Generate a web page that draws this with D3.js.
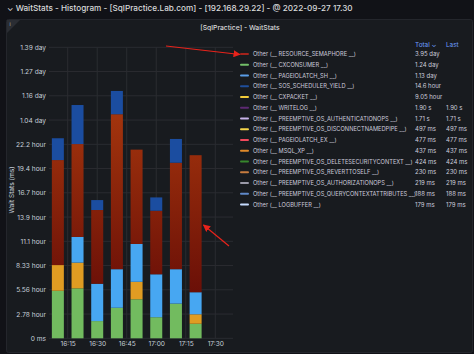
<!DOCTYPE html>
<html><head><meta charset="utf-8">
<script src="https://cdn.jsdelivr.net/npm/d3@7"></script>
<style>
body{margin:0;background:#111217;}
svg{display:block;font-family:Inter, Roboto, "Noto Sans", sans-serif;}
</style>
</head><body><svg id="c" width="474" height="354"></svg>
<script>
// ---- data (wait time in ms per 10-minute bucket) ----
const times = ["16:10","16:20","16:30","16:40","16:50","17:00","17:10","17:20"];
const cxconsumer        = [19600000,20600000, 7100000,12600000,16100000, 8700000,14300000, 6000000];
const cxpacket          = [10600000,10600000,       0,       0, 7200000,       0,       0, 3900000];
const pageiolatchSh     = [       0,10600000,15400000,15900000,15600000,17700000,14200000, 9100000];
const resourceSemaphore = [43300000,38300000,30400000,63900000,38900000,26200000,43900000,56500000];
const sosSchedulerYield = [ 9000000,16100000, 4100000, 9600000,       0, 5500000, 9800000,       0];

const yTickValues = [0,10000000,20000000,30000000,40000000,50000000,60000000,70000000,80000000,90000000,100000000,110000000,120000000];
const yTickLabels = ["0 ms","2.78 hour","5.56 hour","8.33 hour","11.1 hour","13.9 hour","16.7 hour","19.4 hour","22.2 hour","1.04 day","1.16 day","1.27 day","1.39 day"];
const xTickLabels = ["16:15","16:30","16:45","17:00","17:15","17:30"];

const legendNames = ["RESOURCE_SEMAPHORE","CXCONSUMER","PAGEIOLATCH_SH","SOS_SCHEDULER_YIELD","CXPACKET","WRITELOG",
  "PREEMPTIVE_OS_AUTHENTICATIONOPS","PREEMPTIVE_OS_DISCONNECTNAMEDPIPE","PAGEIOLATCH_EX","MSQL_XP",
  "PREEMPTIVE_OS_DELETESECURITYCONTEXT","PREEMPTIVE_OS_REVERTTOSELF","PREEMPTIVE_OS_AUTHORIZATIONOPS",
  "PREEMPTIVE_OS_QUERYCONTEXTATTRIBUTES","LOGBUFFER"];
const legendTotals = ["3.95 day","1.24 day","1.13 day","14.6 hour","9.05 hour","1.90 s","1.71 s","497 ms","477 ms","437 ms","424 ms","230 ms","219 ms","188 ms","179 ms"];
const legendLast   = ["","","","","","1.90 s","1.71 s","497 ms","477 ms","437 ms","424 ms","230 ms","219 ms","188 ms","179 ms"];
const legendColors = ["#a3231c","#73bf69","#5a9ee8","#1f4f9c","#f2cc3a","#5d2a73","#c8b4ea","#f5d64b","#f2495c","#e08a2a",
  "#37872d","#c77c3f","#9a9aa8","#5f89c9","#c6dcff"];

// ---- layout ----
const svg = d3.select("#c");
const parse = d3.timeParse("%Y-%m-%d %H:%M");
const day = "2022-09-27 ";
const x = d3.scaleTime().domain([new Date(parse(day+"16:05").getTime()+30000), parse(day+"17:39")]).range([49, 233]);
const y = d3.scaleLinear().domain([0, 120000000]).range([338.3, 47.3]);

// background / panel
svg.append("rect").attr("x",0).attr("y",0).attr("width",474).attr("height",354).attr("fill","#111217");
svg.append("rect").attr("x",6.5).attr("y",19.5).attr("width",466).attr("height",333).attr("rx",2)
  .attr("fill","#181b1f").attr("stroke","#24262c");
svg.append("text").attr("x",7).attr("y",11).attr("fill","#d8d9da").attr("font-size",8.2).attr("font-weight",500)
  .text("⌄ WaitStats - Histogram - [SqlPractice.Lab.com] - [192.168.29.22] - @ 2022-09-27 17.30");
svg.append("text").attr("x",240).attr("y",30).attr("text-anchor","middle").attr("fill","#d8d9da")
  .attr("font-size",6.8).attr("font-weight",500).text("[SqlPractice] - WaitStats");
svg.append("path").attr("d","M7,20 L20,20 L7,33 Z").attr("fill","#2a2d33");
svg.append("text").attr("x",9.5).attr("y",26).attr("fill","#bbb").attr("font-size",5).text("i");

// gradient for resource semaphore
const defs = svg.append("defs");
const g = defs.append("linearGradient").attr("id","redGrad").attr("gradientUnits","userSpaceOnUse")
  .attr("x1",0).attr("x2",0).attr("y1",y(120000000)).attr("y2",y(0));
g.append("stop").attr("offset","0%").attr("stop-color","#b8420f");
g.append("stop").attr("offset","100%").attr("stop-color","#5c0606");

// grid
const xTickDates = xTickLabels.map(t => parse(day+t));
const grid = svg.append("g");
grid.selectAll("line.h").data(yTickValues).join("line")
  .attr("x1",49).attr("x2",233).attr("y1",d=>y(d)).attr("y2",d=>y(d))
  .attr("stroke","#2a2c31").attr("stroke-width",1);
grid.selectAll("line.v").data(xTickDates).join("line")
  .attr("x1",d=>x(d)).attr("x2",d=>x(d)).attr("y1",y(120000000)).attr("y2",y(0))
  .attr("stroke","#2a2c31").attr("stroke-width",1);

// axes
const yAxis = d3.axisLeft(y).tickValues(yTickValues).tickSize(0).tickPadding(3)
  .tickFormat((d,i)=>yTickLabels[i]);
const ya = svg.append("g").attr("transform","translate(49,0)").call(yAxis);
const xAxis = d3.axisBottom(x).tickValues(xTickDates).tickSize(0).tickPadding(3)
  .tickFormat((d,i)=>xTickLabels[i]);
const xa = svg.append("g").attr("transform","translate(0,338.3)").call(xAxis);
[ya,xa].forEach(a=>{a.select(".domain").remove();
  a.selectAll("text").attr("fill","#c7d0d9").attr("font-size",6.6).attr("font-family","Inter, Roboto, sans-serif");});
svg.append("text").attr("transform","translate(14,190) rotate(-90)").attr("text-anchor","middle")
  .attr("fill","#c7d0d9").attr("font-size",6.6).text("Wait Stats (ms)");

// stacked bars
const seriesKeys = ["cxconsumer","cxpacket","pageiolatchSh","resourceSemaphore","sosSchedulerYield"];
const seriesColors = {cxconsumer:"#72bb5f", cxpacket:"#e09c22", pageiolatchSh:"#47a7f2", resourceSemaphore:"url(#redGrad)", sosSchedulerYield:"#1b4da0"};
const rows = times.map((t,i)=>({t:parse(day+t), cxconsumer:cxconsumer[i], cxpacket:cxpacket[i],
  pageiolatchSh:pageiolatchSh[i], resourceSemaphore:resourceSemaphore[i], sosSchedulerYield:sosSchedulerYield[i]}));
const stacked = d3.stack().keys(seriesKeys)(rows);
const halfW = 3.05*60000;
svg.append("g").selectAll("g").data(stacked).join("g").attr("fill",d=>seriesColors[d.key])
  .selectAll("rect").data(d=>d.filter(s=>s[1]>s[0])).join("rect")
  .attr("x",d=>x(new Date(d.data.t.getTime()-halfW)))
  .attr("width",d=>x(new Date(d.data.t.getTime()+halfW))-x(new Date(d.data.t.getTime()-halfW)))
  .attr("y",d=>y(d[1])).attr("height",d=>y(d[0])-y(d[1]));

// legend
const lg = svg.append("g");
lg.append("text").attr("x",415).attr("y",46.5).attr("fill","#6e9fff").attr("font-size",6.4).text("Total ⌄");
lg.append("text").attr("x",446).attr("y",46.5).attr("fill","#6e9fff").attr("font-size",6.4).text("Last");
const rowsL = lg.selectAll("g.r").data(legendNames).join("g").attr("transform",(d,i)=>`translate(0,${54+i*10.75})`);
rowsL.append("rect").attr("x",240).attr("y",-1).attr("width",9).attr("height",2).attr("rx",1).attr("fill",(d,i)=>legendColors[i]);
rowsL.append("text").attr("x",253).attr("y",2.2).attr("fill","#ccccdc").attr("font-size",5.7).text(d=>`Other (__ ${d} __)`);
rowsL.append("text").attr("x",415).attr("y",2.2).attr("fill","#ccccdc").attr("font-size",6).text((d,i)=>legendTotals[i]);
rowsL.append("text").attr("x",446).attr("y",2.2).attr("fill","#ccccdc").attr("font-size",6).text((d,i)=>legendLast[i]);

// red annotation arrows
defs.append("marker").attr("id","ah").attr("viewBox","0 0 10 10").attr("refX",9).attr("refY",5)
  .attr("markerWidth",6).attr("markerHeight",6).attr("orient","auto")
  .append("path").attr("d","M0,0 L10,5 L0,10 Z").attr("fill","#e8231b");
svg.append("line").attr("x1",166).attr("y1",46).attr("x2",240).attr("y2",54.5)
  .attr("stroke","#e8231b").attr("stroke-width",1.2).attr("marker-end","url(#ah)");
svg.append("line").attr("x1",229).attr("y1",246).attr("x2",203.5).attr("y2",225)
  .attr("stroke","#e8231b").attr("stroke-width",1.2).attr("marker-end","url(#ah)");
</script></body></html>
